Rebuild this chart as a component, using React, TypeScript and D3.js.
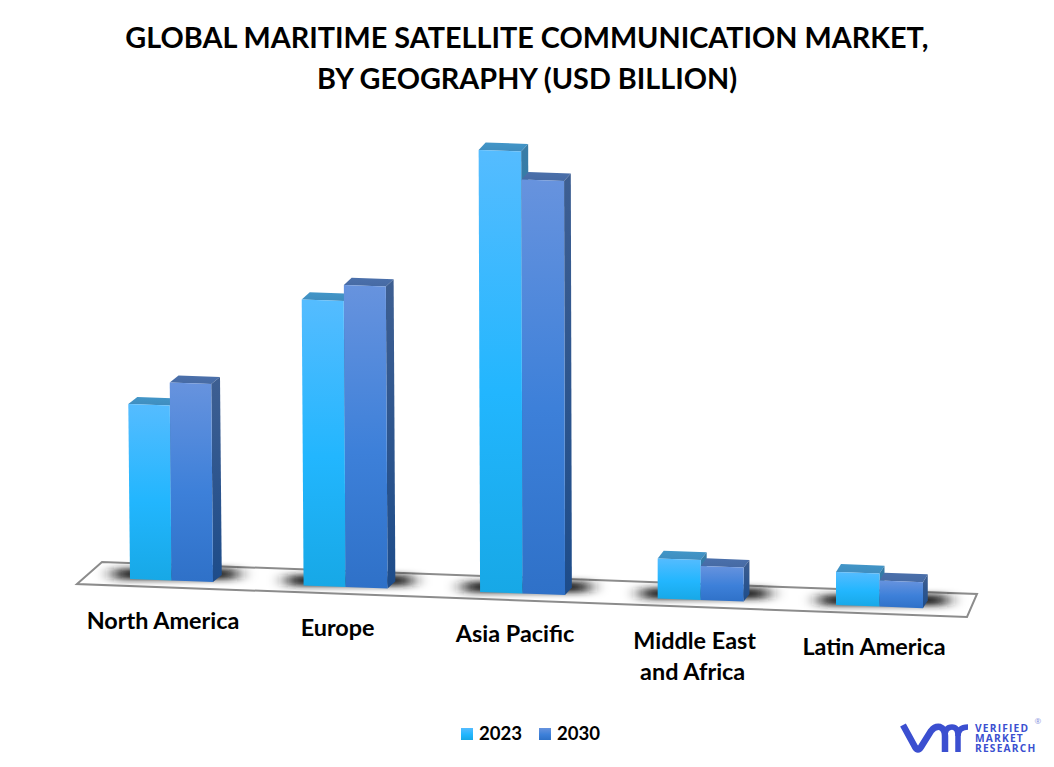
import React from 'react';
import * as d3 from 'd3';

const categories = ['North America', 'Europe', 'Asia Pacific', 'Middle East and Africa', 'Latin America'];
const labelLines = [['North America'], ['Europe'], ['Asia Pacific'], ['Middle East', 'and Africa'], ['Latin America']];
const series = ['2023', '2030'];
const values2023 = [1.75, 2.86, 4.42, 0.4, 0.33];
const values2030 = [1.98, 3.02, 4.14, 0.34, 0.26];

const titleLines = ['GLOBAL MARITIME SATELLITE COMMUNICATION MARKET,', 'BY GEOGRAPHY (USD BILLION)'];
const font = 'Lato, Carlito, sans-serif';
const logoBlue = '#3b4fd0';

// slightly non-uniform spacing, the original is a 3D chart in perspective
const xIndex = d3.scalePow().exponent(1.012).domain([0, categories.length - 1]).range([130, 836]);
const barWidth = d3.scaleLinear().domain([130, 836]).range([41.5, 43.5]);
const height = d3.scaleLinear().domain([0, 1]).range([0, 100]);
const floorY = d3.scaleLinear().domain([130, 836]).range([579, 605]);
const depthX = d3.scaleLinear().domain([130, 927]).range([9, 4.5]);
const depthY = d3.scaleLinear().domain([130, 927]).range([-7, -8]);
const lean = d3.scaleLinear().domain([130, 657]).range([0.0097, 0]).clamp(true);

const pts = (p: number[][]) => p.map(d => d.join(',')).join(' ');

const Bar: React.FC<{ x: number; w: number; value: number; s: string }> = ({ x, w, value, s }) => {
  const h = height(value);
  const dx = depthX(x);
  const dy = depthY(x);
  const t = lean(x) * h;
  const bl = [x, floorY(x)];
  const br = [x + w, floorY(x + w)];
  const tl = [x - t, floorY(x) - h];
  const tr = [x + w - t, floorY(x + w) - h];
  return (
    <g>
      <polygon points={pts([tl, tr, [tr[0] + dx, tr[1] + dy], [tl[0] + dx, tl[1] + dy]])} fill={`url(#top${s})`} />
      <polygon points={pts([tr, br, [br[0] + dx, br[1] + dy], [tr[0] + dx, tr[1] + dy]])} fill={`url(#side${s})`} />
      <polygon points={pts([tl, tr, br, bl])} fill={`url(#front${s})`} />
    </g>
  );
};

const App: React.FC = () => {
  return (
    <svg width={1054} height={767} style={{ position: 'absolute', left: 0, top: 0, display: 'block', background: '#fff' }} fontFamily={font}>
      <defs>
        <linearGradient id="front2023" x1="0" y1="0" x2="0" y2="1">
          <stop offset="0%" stopColor="#55bcff" />
          <stop offset="55%" stopColor="#22b6fe" />
          <stop offset="100%" stopColor="#17a8e6" />
        </linearGradient>
        <linearGradient id="front2030" x1="0" y1="0" x2="0" y2="1">
          <stop offset="0%" stopColor="#6793de" />
          <stop offset="55%" stopColor="#3d80d9" />
          <stop offset="100%" stopColor="#2f71c8" />
        </linearGradient>
        <linearGradient id="side2023" x1="0" y1="0" x2="0" y2="1">
          <stop offset="0%" stopColor="#397ca6" />
          <stop offset="100%" stopColor="#1a7bb0" />
        </linearGradient>
        <linearGradient id="side2030" x1="0" y1="0" x2="0" y2="1">
          <stop offset="0%" stopColor="#3e5f92" />
          <stop offset="100%" stopColor="#1d4c8a" />
        </linearGradient>
        <linearGradient id="top2023" x1="0" y1="0" x2="0" y2="1">
          <stop offset="0%" stopColor="#4296c8" />
          <stop offset="100%" stopColor="#3f8dbf" />
        </linearGradient>
        <linearGradient id="top2030" x1="0" y1="0" x2="0" y2="1">
          <stop offset="0%" stopColor="#4b70ab" />
          <stop offset="100%" stopColor="#466aa4" />
        </linearGradient>
        <filter id="shadowBlur" x="-30%" y="-150%" width="160%" height="400%">
          <feGaussianBlur stdDeviation="9 3" />
        </filter>
      </defs>

      {titleLines.map((line, i) => (
        <text key={line} x={527} y={47.5 + i * 41.5} textAnchor="middle" fontSize={28.8} fontWeight={700} fill="#000">
          {line}
        </text>
      ))}

      <polygon points={pts([[77, 584], [102, 562], [977, 594], [967, 617]])} fill="#fff" stroke="#8c8c8c" strokeWidth={2} />

      {categories.map((c, i) => {
        const x = xIndex(i);
        const w = 2 * barWidth(x);
        return (
          <rect key={c} x={x - 16} y={floorY(x + w / 2) - 12} width={w + 40} height={11} fill="#1c1c1c" filter="url(#shadowBlur)" />
        );
      })}

      {categories.map((c, i) => {
        const x = xIndex(i);
        const w = barWidth(x);
        return (
          <g key={c}>
            <Bar x={x} w={w} value={values2023[i]} s={series[0]} />
            <Bar x={x + w} w={w} value={values2030[i]} s={series[1]} />
          </g>
        );
      })}

      {labelLines.map((lines, i) => {
        const cx = xIndex(i) + 34 + [-1, 0, 1, 3, 4][i];
        const base = floorY(cx) + 49;
        return lines.map((l, j) => (
          <text key={l} x={cx - j * 2} y={base + j * 31} textAnchor="middle" fontSize={23.4} fontWeight={700} fill="#000">
            {l}
          </text>
        ));
      })}

      {series.map((s, i) => (
        <g key={s} transform={`translate(${461 + i * 78},728)`}>
          <rect width={12} height={12} fill={`url(#front${s})`} />
          <text x={18} y={12} fontSize={18.6} fontWeight={700} fill="#000">{s}</text>
        </g>
      ))}

      <g fill="none" stroke={logoBlue} strokeWidth={5.5}>
        <path d="M903 725 L915 747 Q918 752 921 747 L931 731 Q935 726 940 727 Q945 729 945 736 L945 752" strokeWidth={6.5} />
        <path d="M945 736 Q945 727 952 727 Q958 727 958 736 L958 752" />
        <path d="M958 736 Q958 727 968 727" />
      </g>
      <g fill={logoBlue} fontSize={10.2} fontWeight={700} letterSpacing={1.2} fontFamily="'Open Sans', sans-serif">
        <text x={975} y={732}>VERIFIED</text>
        <text x={975} y={742}>MARKET</text>
        <text x={975} y={752}>RESEARCH</text>
      </g>
      <text x={1034.5} y={724} fontSize={8} fill="#8a94de" fontFamily="'Open Sans', sans-serif">®</text>
    </svg>
  );
};

export default App;
